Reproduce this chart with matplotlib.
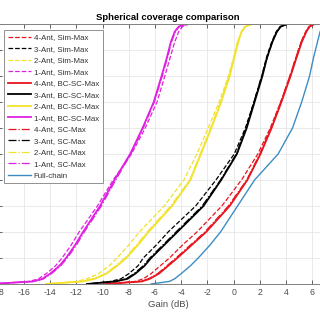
import matplotlib
matplotlib.use('Agg')
import matplotlib.pyplot as plt

plt.rcParams['font.family'] = ['Liberation Sans', 'DejaVu Sans']
plt.rcParams['axes.unicode_minus'] = False

# CDF levels shared by all curves
cdf = [0, 0.01, 0.02, 0.04, 0.07, 0.1, 0.15, 0.2, 0.3, 0.4, 0.5, 0.6, 0.7, 0.8, 0.87, 0.93, 0.97, 0.99, 1.0]

# gain (dB) at each CDF level
sim4 = [-9.8, -7.5, -6.9, -6.3, -5.6, -4.9, -3.9, -2.8, -0.9, 0.6, 1.85, 2.8, 3.6, 4.3, 4.75, 5.15, 5.5, 5.75, 6.1]
sim3 = [-11.2, -9.4, -8.6, -8.0, -7.3, -6.9, -5.9, -5.0, -2.9, -1.35, 0.05, 0.9, 1.55, 2.15, 2.5, 2.9, 3.25, 3.55, 4.0]
sim2 = [-14.3, -12.0, -11.2, -10.3, -9.5, -8.9, -8.0, -7.2, -5.3, -3.8, -2.8, -1.95, -1.1, -0.4, 0.0, 0.3, 0.6, 0.9, 1.4]
sim1 = [-18.5, -15.6, -14.9, -14.3, -13.6, -13.1, -12.4, -11.8, -10.4, -9.2, -7.8, -6.75, -5.85, -5.25, -4.85, -4.5, -4.2, -3.9, -3.4]

bc4 = [-9.8, -7.0, -6.4, -5.7, -5.0, -4.3, -3.2, -2.1, -0.3, 1.05, 2.05, 2.9, 3.65, 4.35, 4.8, 5.2, 5.55, 5.8, 6.2]
bc3 = [-11.2, -9.0, -8.1, -7.5, -6.8, -6.3, -5.3, -4.3, -2.3, -0.95, 0.25, 1.0, 1.6, 2.2, 2.55, 2.95, 3.3, 3.6, 4.1]
bc2 = [-14.3, -11.5, -10.6, -9.7, -8.9, -8.2, -7.3, -6.5, -4.7, -3.3, -2.5, -1.7, -0.95, -0.3, 0.05, 0.35, 0.6, 0.9, 1.4]
bc1 = [-18.5, -15.3, -14.6, -14.0, -13.3, -12.8, -12.1, -11.5, -10.2, -9.1, -7.9, -6.95, -6.1, -5.5, -5.1, -4.8, -4.5, -4.2, -3.6]

sc4 = [-9.8, -7.1, -6.5, -5.8, -5.1, -4.4, -3.3, -2.2, -0.4, 1.0, 2.0, 2.85, 3.6, 4.3, 4.75, 5.15, 5.5, 5.8, 6.2]
sc3 = [-11.2, -9.1, -8.2, -7.6, -6.9, -6.4, -5.4, -4.4, -2.4, -1.0, 0.2, 0.95, 1.55, 2.15, 2.55, 2.95, 3.3, 3.6, 4.1]
sc2 = [-14.3, -11.6, -10.7, -9.8, -9.0, -8.3, -7.4, -6.6, -4.8, -3.35, -2.55, -1.75, -1.0, -0.35, 0.0, 0.3, 0.6, 0.9, 1.4]
sc1 = [-18.5, -15.2, -14.5, -13.9, -13.2, -12.7, -12.0, -11.4, -10.1, -9.0, -7.85, -6.9, -6.05, -5.45, -5.05, -4.75, -4.45, -4.15, -3.6]

full = [-6.3, -4.9, -4.5, -4.0, -3.3, -2.7, -1.8, -1.0, 0.3, 1.6, 3.4, 4.5, 5.2, 5.8, 6.1, 6.4, 6.6, 6.8, 7.1]

xticks = list(range(-18, 7, 2))

red = '#e8141e'
blk = '#000000'
yel = '#f2e22c'
mag = '#e020e0'
blu = '#3d8dc4'

fig = plt.figure(figsize=(3.2, 3.2), dpi=100)
ax = fig.add_axes([-0.0066, 0.1125, 1.064, 0.8125])

ax.plot(sim4, cdf, '--', color=red, lw=0.9, label='4-Ant, Sim-Max')
ax.plot(sim3, cdf, '--', color=blk, lw=0.9, label='3-Ant, Sim-Max')
ax.plot(sim2, cdf, '--', color=yel, lw=0.9, label='2-Ant, Sim-Max')
ax.plot(sim1, cdf, '--', color=mag, lw=0.9, label='1-Ant, Sim-Max')
ax.plot(bc4, cdf, '-', color=red, lw=1.3, label='4-Ant, BC-SC-Max')
ax.plot(bc3, cdf, '-', color=blk, lw=1.3, label='3-Ant, BC-SC-Max')
ax.plot(bc2, cdf, '-', color=yel, lw=1.3, label='2-Ant, BC-SC-Max')
ax.plot(bc1, cdf, '-', color=mag, lw=1.3, label='1-Ant, BC-SC-Max')
ax.plot(sc4, cdf, '-.', color=red, lw=0.9, label='4-Ant, SC-Max')
ax.plot(sc3, cdf, '-.', color=blk, lw=0.9, label='3-Ant, SC-Max')
ax.plot(sc2, cdf, '-.', color=yel, lw=0.9, label='2-Ant, SC-Max')
ax.plot(sc1, cdf, '-.', color=mag, lw=0.9, label='1-Ant, SC-Max')
ax.plot(full, cdf, '-', color=blu, lw=1.0, label='Full-chain')

ax.set_xlim(-18, 8)
ax.set_ylim(0, 1)
ax.set_xticks(xticks)
ax.set_yticks([i / 10 for i in range(11)])
ax.grid(True, color='#e6e6e6', lw=0.6)
ax.set_axisbelow(True)
ax.tick_params(direction='in', top=True, right=True, labelleft=False,
               labelsize=6.3, colors='#4d4d4d', length=3, width=0.6, pad=3)
for s in ax.spines.values():
    s.set_color('#808080')
    s.set_linewidth(0.7)

ax.set_xlabel('Gain (dB)', fontsize=6.8, color='#4d4d4d', labelpad=2)
ax.set_title('Spherical coverage comparison', fontsize=6.8, fontweight='bold', pad=3)

leg = ax.legend(loc='upper left', bbox_to_anchor=(4 / 320, 1 - 30 / 320),
                bbox_transform=fig.transFigure, borderaxespad=0, fontsize=5.7,
                handlelength=2.9, handletextpad=0.35, labelspacing=0.5,
                borderpad=0.5, fancybox=False, framealpha=1, edgecolor='#808080')
leg.get_frame().set_linewidth(0.6)
for t in leg.get_texts():
    t.set_color('#333333')

fig.savefig('out.png', dpi=100)
